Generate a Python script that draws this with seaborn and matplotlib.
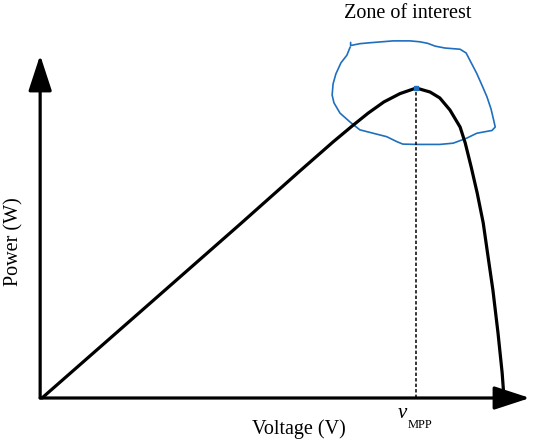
import numpy as np
import pandas as pd
import matplotlib
matplotlib.use("Agg")
import matplotlib.pyplot as plt
import seaborn as sns

# P-V curve of a PV module (normalised: V / Voc, P / Pmpp)
voltage = [0.0, 0.212, 0.429, 0.558, 0.630, 0.671, 0.706, 0.740, 0.775,
           0.810, 0.840, 0.861, 0.883, 0.905, 0.916, 0.929, 0.942, 0.955,
           0.965, 0.976, 0.987, 0.996, 1.0]
power = [0.0, 0.277, 0.561, 0.732, 0.826, 0.877, 0.919, 0.955, 0.982,
         1.0, 0.987, 0.968, 0.929, 0.874, 0.823, 0.745, 0.661, 0.565,
         0.461, 0.348, 0.210, 0.081, 0.0]

v_mpp = 0.810
p_mpp = 1.0

# hand-drawn "zone of interest" outline around the MPP
zone_v = [0.668, 0.668, 0.688, 0.710, 0.760, 0.797, 0.818, 0.835, 0.851,
          0.872, 0.905, 0.918, 0.926, 0.941, 0.952, 0.963, 0.972, 0.978,
          0.981, 0.974, 0.959, 0.941, 0.919, 0.890, 0.861, 0.811, 0.781,
          0.768, 0.746, 0.717, 0.688, 0.667, 0.645, 0.632, 0.628, 0.630,
          0.636, 0.647, 0.660, 0.667]
zone_p = [1.147, 1.137, 1.143, 1.146, 1.152, 1.152, 1.149, 1.144, 1.135,
          1.129, 1.125, 1.113, 1.090, 1.047, 1.010, 0.972, 0.932, 0.894,
          0.874, 0.863, 0.859, 0.854, 0.838, 0.822, 0.818, 0.818, 0.819,
          0.827, 0.843, 0.854, 0.865, 0.890, 0.919, 0.952, 0.977, 1.013,
          1.045, 1.081, 1.106, 1.132]

x_end = 1.056   # arrow tips of the hand-drawn axes
y_end = 1.106

sns.set_theme(style="white")
plt.rcParams["font.family"] = ["Liberation Serif", "DejaVu Serif"]
plt.rcParams["text.color"] = "black"

blue = "#1f6fbf"

fig = plt.figure(figsize=(5.5, 4.41), dpi=100)
ax = fig.add_axes([0, 0, 1, 1])

curve = pd.DataFrame({"voltage": voltage, "power": power})
zone = pd.DataFrame({"v": zone_v, "p": zone_p})

sns.lineplot(data=zone, x="v", y="p", sort=False, estimator=None,
             color=blue, lw=1.2, ax=ax, solid_joinstyle="round")
sns.lineplot(data=curve, x="voltage", y="power", sort=False, estimator=None,
             color="black", lw=2.3, ax=ax, solid_joinstyle="round")

# dotted drop line at V_mpp
ax.plot([v_mpp, v_mpp], [0, p_mpp], color="black", lw=1.1,
        linestyle=(0, (2.2, 1.4)))
ax.plot([v_mpp], [p_mpp], marker="s", ms=3.5, color=blue, zorder=5)

# axes drawn as arrows
arrow = dict(arrowstyle="-|>,head_length=2.2,head_width=0.72",
             mutation_scale=10, lw=2.3, color="black",
             shrinkA=0, shrinkB=0)
ax.annotate("", xy=(x_end, 0), xytext=(-0.004, 0), arrowprops=arrow)
ax.annotate("", xy=(-0.004, y_end), xytext=(-0.004, 0), arrowprops=arrow)

ax.text(0.792, 1.226, "Zone of interest", ha="center", va="baseline",
        fontsize=14.5, color="black")
ax.text(0.556, -0.116, "Voltage (V)", ha="center", va="baseline",
        fontsize=14.5, color="black")
ax.text(-0.0606, 0.503, "Power (W)", ha="center", va="center",
        rotation=90, fontsize=14.5, color="black")
ax.text(0.779, -0.0645, "v", ha="center", va="baseline", fontsize=15,
        style="italic", color="black")
ax.text(0.792, -0.0968, "MPP", ha="left", va="baseline", fontsize=9,
        color="black")

ax.set_xlim(-42 / 462, 508 / 462)
ax.set_ylim(-43 / 310, 398 / 310)
ax.set_axis_off()

fig.savefig("out.png", dpi=100)
